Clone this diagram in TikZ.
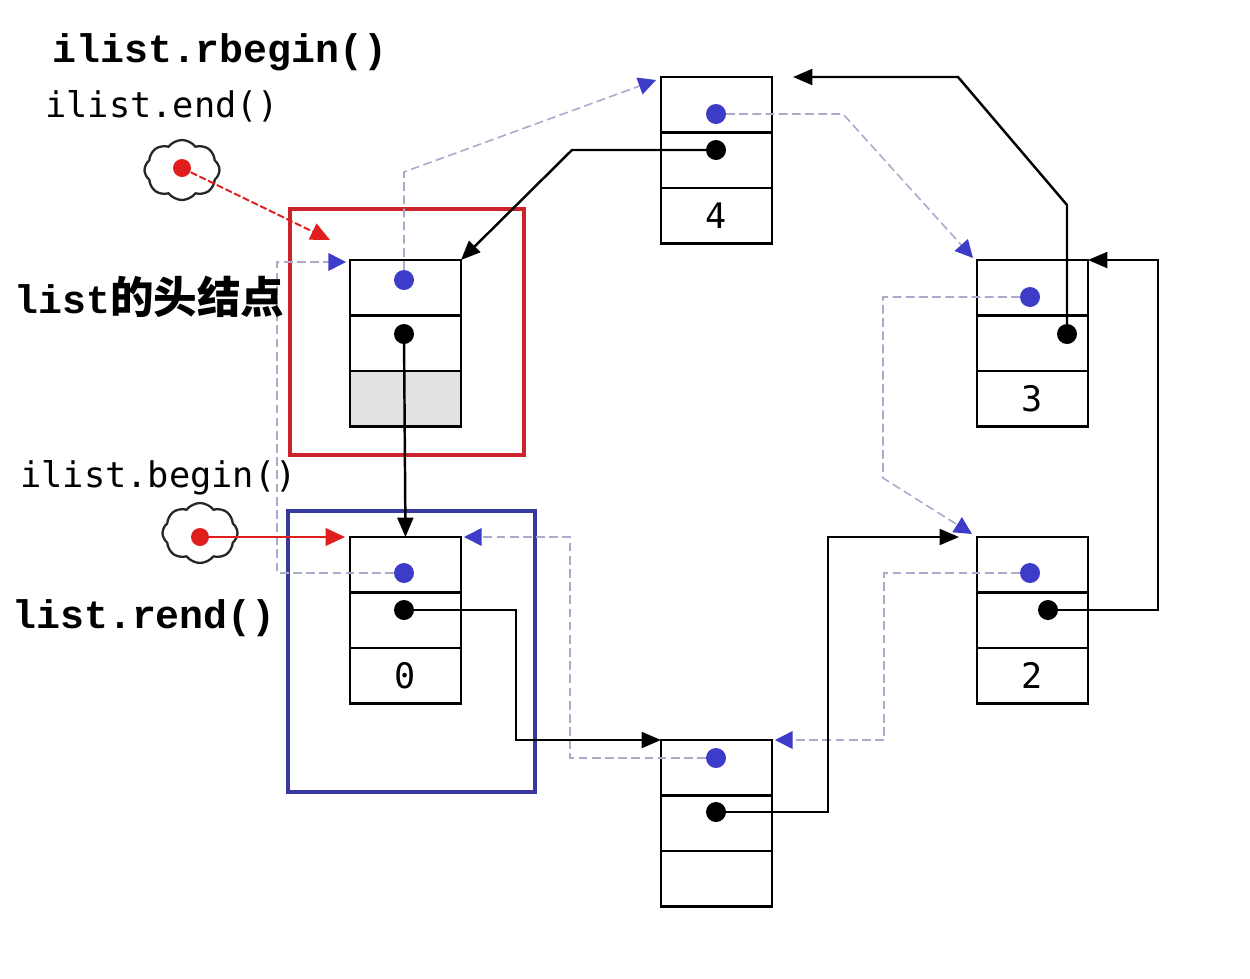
\documentclass[tikz,border=0pt]{standalone}
\usepackage{fontspec}
\usetikzlibrary{arrows.meta,shapes.symbols,calc}
\newfontfamily\sermono{Liberation Mono}
\newfontfamily\sansmono{DejaVu Sans Mono}
\newfontfamily\cnfont{Noto Sans CJK SC}
\definecolor{redbox}{RGB}{205,35,45}
\definecolor{bluebox}{RGB}{55,55,160}
\definecolor{bluedot}{RGB}{60,60,200}
\definecolor{dashc}{RGB}{170,170,205}
\definecolor{redarr}{RGB}{225,30,30}
\definecolor{cellgray}{RGB}{226,226,226}
\tikzset{
  cell/.style={draw=black,line width=1.5pt,minimum width=2.22cm,minimum height=1.11cm,inner sep=0pt,outer sep=0pt,font=\sansmono\fontsize{20}{20}\selectfont},
  bdot/.style={circle,fill=bluedot,minimum size=0.4cm,inner sep=0pt,outer sep=0pt},
  kdot/.style={circle,fill=black,minimum size=0.4cm,inner sep=0pt},
  blk/.style={draw=black,line width=1.4pt,-{Triangle[length=11pt,width=9pt]}},
  prev/.style={draw=dashc,line width=0.9pt,dash pattern=on 5pt off 2.5pt,-{Triangle[length=10pt,width=10pt,color=bluedot]}},
  redp/.style={draw=redarr,line width=1.1pt,-{Triangle[length=11pt,width=10pt]}},
  frame/.style={line width=2.4pt},
  sermonolbl/.style={anchor=base west,inner sep=0pt,font=\sermono\bfseries\fontsize{22.7}{24}\selectfont},
  sanslbl/.style={anchor=base west,inner sep=0pt,font=\sansmono\fontsize{20.1}{22}\selectfont},
  cloudy/.style={cloud,cloud puffs=8,cloud puff arc=105,draw=black!85,line width=1.3pt,minimum width=1.5cm,minimum height=1.2cm,aspect=1.25,inner sep=0pt}
}
\newcommand\lnode[5]{%
  \node[cell,anchor=north west] (#1-a) at (#2,#3) {};
  \node[cell,anchor=north] (#1-b) at (#1-a.south) {};
  \node[cell,anchor=north,fill=#5] (#1-c) at (#1-b.south) {#4};
}
\begin{document}
\begin{tikzpicture}[x=0.02cm,y=-0.02cm]
\useasboundingbox (0,0) rectangle (1250,978);
\fill[white] (0,0) rectangle (1250,978);

% frames
\draw[frame,redbox] (290,209) rectangle (524,455);
\draw[frame,bluebox] (288,511) rectangle (535,792);

% list nodes
\lnode{h}{350}{260}{}{cellgray}
\lnode{n4}{661}{77}{4}{white}
\lnode{n3}{977}{260}{3}{white}
\lnode{n2}{977}{537}{2}{white}
\lnode{n0}{350}{537}{0}{white}
\lnode{nb}{661}{740}{}{white}

% dots
\node[bdot] (h-bd) at (404,280) {};
\node[kdot] (h-kd) at (404,334) {};
\node[bdot] (n4-bd) at (716,114) {};
\node[kdot] (n4-kd) at (716,150) {};
\node[bdot] (n3-bd) at (1030,297) {};
\node[kdot] (n3-kd) at (1067,334) {};
\node[bdot] (n2-bd) at (1030,573) {};
\node[kdot] (n2-kd) at (1048,610) {};
\node[bdot] (n0-bd) at (404,573) {};
\node[kdot] (n0-kd) at (404,610) {};
\node[bdot] (nb-bd) at (716,758) {};
\node[kdot] (nb-kd) at (716,812) {};

% prev pointers (dashed)
\draw[prev] (h-bd) -- (404,172) -- ($(n4-a.north west)+(-5,3)$);
\draw[prev] (n4-bd) -- (843,114) -- ($(n3-a.north west)+(-4,-2)$);
\draw[prev] (n3-bd) -- (883,297) -- (883,478) -- ($(n2-a.north west)+(-5,-3)$);
\draw[prev] (n2-bd) -- (884,573) -- (884,740) -- ($(nb-a.north east)+(3,0)$);
\draw[prev] (nb-bd) -- (570,758) -- (570,537) -- ($(n0-a.north east)+(3,0)$);
\draw[prev] (n0-bd) -- (277,573) -- (277,262) -- ($(h-a.north west)+(-4,2)$);

% next pointers (solid)
\draw[blk] (n4-kd.center) -- (572,150) -- (h-a.north east);
\draw[blk] (h-kd.center) -- (n0-a.north);
\draw[blk] (n0-kd.center) -- (516,610) -- (516,740) -- (nb-a.north west);
\draw[blk] (nb-kd.center) -- (828,812) -- (828,537) -- ($(n2-a.north west)+(-18,0)$);
\draw[blk] (n2-kd.center) -- (1158,610) -- (1158,260) -- (n3-a.north east);
\draw[blk] (n3-kd.center) -- (1067,205) -- (958,77) -- ($(n4-a.north east)+(21,0)$);

% iterators
\node[cloudy] (c1) at (182,170) {};
\node[cloudy] (c2) at (200,533) {};
\node[circle,fill=redarr,minimum size=0.36cm,inner sep=0pt] (r1) at (182,168) {};
\node[circle,fill=redarr,minimum size=0.36cm,inner sep=0pt] (r2) at (200,537) {};
\draw[redp,dash pattern=on 4pt off 1.5pt] (r1.center) -- ($(h-a.north west)+(-20,-20)$);
\draw[redp] (r2.center) -- ($(n0-a.north west)+(-5,0)$);

% labels
\node[sermonolbl] (l1) at (52,62) {ilist.rbegin()};
\node[sanslbl] (l2) at (45,117) {ilist.end()};
\node[sermonolbl] (l3) at (14,313) {list{\cnfont\bfseries\fontsize{24.8}{26}\selectfont 的头结点}};
\node[sanslbl] (l4) at (20,487) {ilist.begin()};
\node[sermonolbl] (l5) at (12,628) {list.rend()};
\end{tikzpicture}
\end{document}
